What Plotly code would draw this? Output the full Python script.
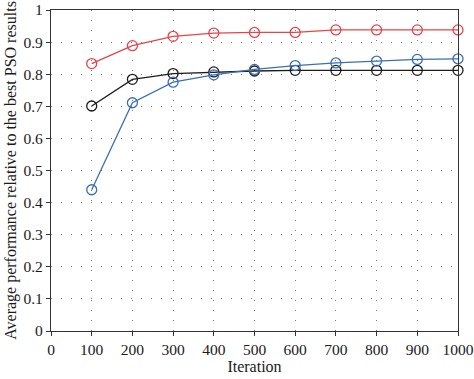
import plotly.graph_objects as go

iterations = [100, 200, 300, 400, 500, 600, 700, 800, 900, 1000]
red_series = [0.833, 0.889, 0.918, 0.928, 0.930, 0.930, 0.938, 0.938, 0.938, 0.938]
black_series = [0.701, 0.784, 0.802, 0.807, 0.810, 0.812, 0.812, 0.812, 0.812, 0.812]
blue_series = [0.440, 0.711, 0.775, 0.798, 0.815, 0.827, 0.835, 0.841, 0.846, 0.848]

x_ticks = [0, 100, 200, 300, 400, 500, 600, 700, 800, 900, 1000]
y_ticks = [0, 0.1, 0.2, 0.3, 0.4, 0.5, 0.6, 0.7, 0.8, 0.9, 1]
y_labels = ["0", "0.1", "0.2", "0.3", "0.4", "0.5", "0.6", "0.7", "0.8", "0.9", "1"]

font = "Liberation Serif, Times New Roman, serif"

fig = go.Figure()
for vals, col in [(red_series, "#e5454a"), (black_series, "#1c1c1c"), (blue_series, "#3b6fb4")]:
    fig.add_trace(go.Scatter(
        x=iterations, y=vals, mode="lines+markers",
        line=dict(color=col, width=1.3),
        marker=dict(symbol="circle-open", size=10, color=col, line=dict(width=1.3, color=col)),
        showlegend=False, cliponaxis=False,
    ))

axis_common = dict(
    showline=True, linecolor="#333", linewidth=1.3, mirror=True,
    ticks="outside", ticklen=4, tickcolor="#333",
    showgrid=True, gridcolor="#7a7a7a", griddash="1px,9px", gridwidth=1.2,
    zeroline=False, automargin=False,
    tickfont=dict(family=font, size=15.5, color="#1a1a1a"),
)

fig.update_xaxes(range=[0, 1000], tickvals=x_ticks,
                 title=dict(text="Iteration", font=dict(family=font, size=16, color="#1a1a1a"), standoff=4),
                 **axis_common)
fig.update_yaxes(range=[0, 1], tickvals=y_ticks, ticktext=y_labels,
                 title=dict(text="Average performance relative to the best PSO results",
                            font=dict(family=font, size=16, color="#1a1a1a"), standoff=2),
                 **axis_common)

fig.update_layout(
    width=474, height=379,
    margin=dict(l=51, r=16, t=10, b=48),
    plot_bgcolor="white", paper_bgcolor="white",
)

fig.write_html("out.html", config={"displayModeBar": False},
               post_script="document.body.style.margin='0';document.body.style.overflow='hidden';")
